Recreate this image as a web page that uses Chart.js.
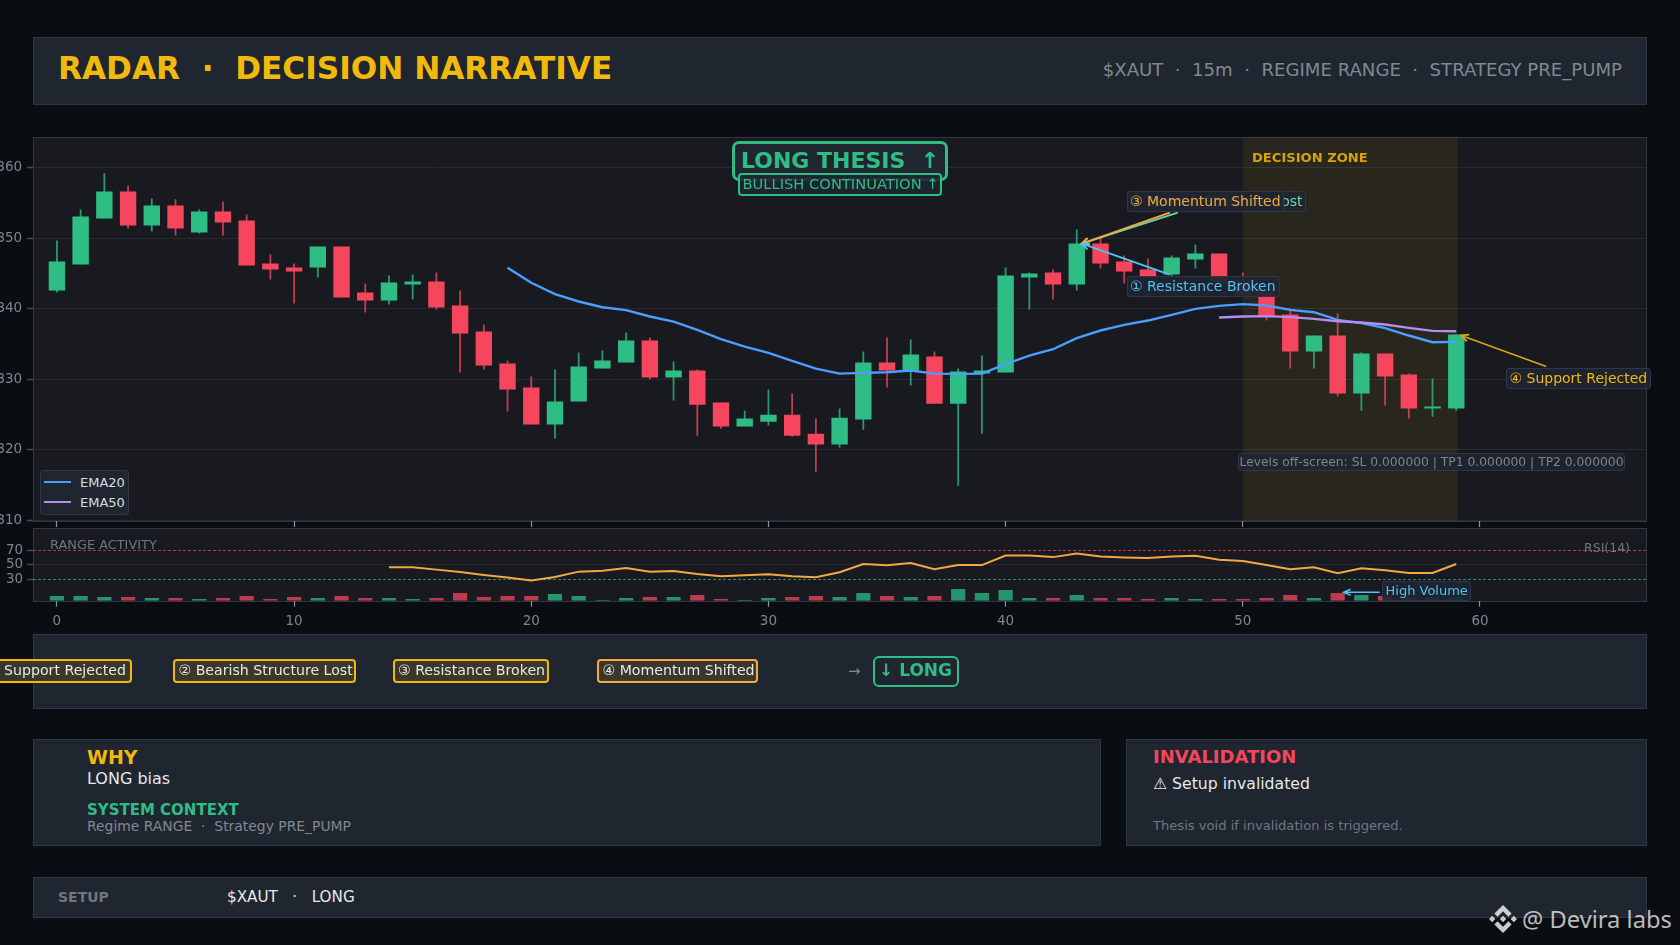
<!DOCTYPE html>
<html lang="en">
<head>
<meta charset="UTF-8">
<title>Radar Decision Narrative</title>
<script src="https://cdn.jsdelivr.net/npm/chart.js"></script>
<style>
  html, body { margin: 0; padding: 0; background: #0a0d11; }
  body { position: relative; width: 1680px; height: 945px; overflow: hidden; font-family: 'DejaVu Sans', sans-serif; }
  .panel { position: absolute; box-sizing: border-box; background: #1f2630; border: 1.5px solid #2f3645; }
  .t { position: absolute; white-space: pre; transform: translateY(-50%); line-height: 1; }
  .box { position: absolute; box-sizing: border-box; white-space: pre; display: flex; align-items: center; border-radius: 3px; }
  .note { background: rgba(31,38,48,.93); border: 1.5px solid #2f3645; padding-left: 2.5px; padding-bottom: 1.5px; font-size: 14px; }
  .badge { background: rgba(61,58,42,.93); border: 2px solid #f0b90b; border-radius: 4px; color: #e6e8ea; font-size: 14.15px; padding-left: 3.5px; padding-bottom: 1px; }
  canvas { position: absolute; left: 0; }
</style>
</head>
<body>
  <div class="panel" style="left:33px;top:37px;width:1613.5px;height:68px"></div>
  <div class="t" style="left:58px;top:69px;font-size:31.15px;font-weight:bold;color:#f0b90b">RADAR  ·  DECISION NARRATIVE</div>
  <div class="t" style="right:58px;top:70px;font-size:18.1px;color:#808892">$XAUT  ·  15m  ·  REGIME RANGE  ·  STRATEGY PRE_PUMP</div>

  <div class="panel" style="left:33px;top:136.5px;width:1613.5px;height:385px;background:#181a20"></div>
  <div class="panel" style="left:33px;top:527.5px;width:1613.5px;height:74px;background:#181a20"></div>

  <canvas id="priceChart" style="top:130px;width:1680px;height:398px"></canvas>
  <canvas id="rsiChart" style="top:520px;width:1680px;height:115px"></canvas>

  <!-- chart labels -->
  <div class="t" style="left:1252px;top:158px;font-size:13.1px;font-weight:bold;color:#d4a30e">DECISION ZONE</div>

  <div class="box" style="left:732px;top:141px;width:216px;height:40px;border:3px solid #2ebd85;border-radius:7px;background:#1f2630"></div>
  <div class="t" style="left:741px;top:161px;font-size:22px;font-weight:bold;color:#2ebd85">LONG THESIS  ↑</div>
  <div class="box" style="left:738px;top:173px;width:204px;height:22.5px;border:2px solid #2ebd85;border-radius:4px;background:rgba(31,38,48,.9);color:#2ebd85;font-size:14.7px;padding-left:2.5px;padding-bottom:2px">BULLISH CONTINUATION ↑</div>

  <div class="box note" style="left:1126.5px;top:191px;width:179px;height:21px;color:#6fd3a5">② Bearish Structure Lost</div>
  <div class="box note" style="left:1126.5px;top:191px;width:157.5px;height:21px;color:#f5a742">③ Momentum Shifted</div>
  <div class="box note" style="left:1126.5px;top:276px;width:153px;height:21px;color:#4fc3f7">① Resistance Broken</div>
  <div class="box note" style="left:1506px;top:368px;width:145px;height:20.5px;color:#f0b90b">④ Support Rejected</div>
  <div class="box note" style="left:1237.5px;top:453px;width:387.5px;height:18px;color:#7d8590;font-size:12.3px;padding-left:1px;padding-bottom:0">Levels off-screen: SL 0.000000 | TP1 0.000000 | TP2 0.000000</div>

  <div class="box" style="left:39.5px;top:469.5px;width:89.5px;height:45.5px;background:#1f2630;border:1.5px solid #2f3645"></div>
  <div style="position:absolute;left:44px;top:481px;width:27px;height:2px;background:#4a9eff"></div>
  <div class="t" style="left:80px;top:482px;font-size:13px;color:#d8dce2">EMA20</div>
  <div style="position:absolute;left:44px;top:501px;width:27px;height:2px;background:#b48cf2"></div>
  <div class="t" style="left:80px;top:502px;font-size:13px;color:#d8dce2">EMA50</div>

  <div class="t" style="left:50px;top:545px;font-size:12.9px;color:#6e7681">RANGE ACTIVITY</div>
  <div class="t" style="right:50px;top:548px;font-size:12.5px;color:#6e7681">RSI(14)</div>
  <div class="box note" style="left:1382px;top:581px;width:89px;height:19.5px;color:#4fc3f7;font-size:13px;padding-bottom:0">High Volume</div>

  <!-- narrative chain -->
  <div class="panel" style="left:33px;top:634px;width:1613.5px;height:74.5px"></div>
  <div class="t" style="left:26px;top:670px;font-size:15px;color:#808892">→</div>
  <div class="t" style="left:232px;top:670px;font-size:15px;color:#808892">→</div>
  <div class="t" style="left:438px;top:670px;font-size:15px;color:#808892">→</div>
  <div class="t" style="left:644px;top:670px;font-size:15px;color:#808892">→</div>
  <div class="t" style="left:848px;top:671px;font-size:15px;color:#808892">→</div>
  <div class="box badge" style="right:1548px;top:658.5px;height:24px;padding-right:4px">① Support Rejected</div>
  <div class="box badge" style="left:173px;top:658.5px;width:183px;height:24px">② Bearish Structure Lost</div>
  <div class="box badge" style="left:392.5px;top:658.5px;width:156.5px;height:24px">③ Resistance Broken</div>
  <div class="box badge" style="left:597px;top:658.5px;width:161px;height:24px;border-color:#f5a742">④ Momentum Shifted</div>
  <div class="box" style="left:873px;top:655.5px;width:86px;height:31px;border:2.5px solid #2ebd85;border-radius:6px;background:#1f2630;color:#2ebd85;font-size:17px;font-weight:bold;padding-left:4px;padding-bottom:2px">↓ LONG</div>

  <!-- why / invalidation -->
  <div class="panel" style="left:33px;top:739px;width:1068px;height:107px"></div>
  <div class="t" style="left:87px;top:757px;font-size:19px;font-weight:bold;color:#f0b90b">WHY</div>
  <div class="t" style="left:87px;top:779px;font-size:16px;color:#e6e8ea">LONG bias</div>
  <div class="t" style="left:87px;top:809.5px;font-size:15px;font-weight:bold;color:#2ebd85">SYSTEM CONTEXT</div>
  <div class="t" style="left:87px;top:827px;font-size:13.9px;color:#808892">Regime RANGE  ·  Strategy PRE_PUMP</div>

  <div class="panel" style="left:1126px;top:739px;width:520.5px;height:107px"></div>
  <div class="t" style="left:1153px;top:757px;font-size:18px;font-weight:bold;color:#f6465d">INVALIDATION</div>
  <div class="t" style="left:1153px;top:784px;font-size:15.7px;color:#e6e8ea">⚠ Setup invalidated</div>
  <div class="t" style="left:1153px;top:825.5px;font-size:13.1px;color:#6e7681">Thesis void if invalidation is triggered.</div>

  <div class="panel" style="left:33px;top:877px;width:1613.5px;height:41px"></div>
  <div class="t" style="left:58px;top:896.5px;font-size:14px;font-weight:bold;color:#6e7681">SETUP</div>
  <div class="t" style="left:227px;top:897.5px;font-size:15.2px;color:#e6e8ea">$XAUT   ·   LONG</div>

  <!-- watermark -->
  <svg style="position:absolute;left:1489px;top:905px;width:28px;height:28px" viewBox="0 0 126.61 126.61" fill="rgba(255,255,255,.78)">
    <path d="M38.73 53.2l24.59-24.58 24.6 24.6 14.3-14.31L63.32 0 24.42 38.9l14.31 14.3z"/>
    <path d="M0 63.31l14.3-14.31 14.31 14.31-14.31 14.3z"/>
    <path d="M38.73 73.41l24.59 24.59 24.6-24.6 14.31 14.29-38.9 38.91-38.91-38.88-.02-.02 14.33-14.29z"/>
    <path d="M98 63.31l14.3-14.31 14.31 14.3-14.31 14.32z"/>
    <path d="M77.83 63.3L63.32 48.78 52.59 59.51l-1.24 1.23-2.54 2.54 14.51 14.5 14.51-14.47z"/>
  </svg>
  <div class="t" style="left:1522px;top:920px;font-size:23.7px;font-family:'Noto Sans',sans-serif;color:rgba(255,255,255,.72)">@ Devira labs</div>

<script>
  // candles
  const opens = [4342.57,4346.26,4352.77,4356.6,4351.78,4354.62,4350.79,4353.77,4352.49,4346.4,4345.83,4345.83,4348.81,4342.29,4341.16,4343.42,4343.85,4340.45,4336.77,4332.23,4328.83,4323.59,4326.85,4331.52,4332.37,4335.49,4330.25,4331.24,4326.71,4323.31,4324.01,4325,4322.31,4320.76,4324.3,4332.37,4331.24,4333.22,4326.56,4330.81,4330.96,4344.42,4345.12,4343.42,4349.23,4346.68,4345.55,4344.84,4346.97,4347.82,4344,4342.3,4339.17,4333.93,4336.2,4327.98,4333.65,4330.67,4325.86,4325.86];
  const closes = [4346.68,4353.06,4356.6,4351.78,4354.62,4351.36,4353.77,4352.21,4346.12,4345.55,4345.27,4348.81,4341.58,4341.16,4343.71,4343.85,4340.17,4336.48,4331.95,4328.55,4323.59,4326.85,4331.81,4332.66,4335.49,4330.25,4331.24,4326.42,4323.31,4324.44,4325,4322.03,4320.76,4324.58,4332.37,4331.24,4333.51,4326.56,4331.1,4331.24,4344.7,4344.98,4343.42,4349.23,4346.4,4345.27,4344.56,4347.25,4347.82,4343.7,4341.9,4338.9,4333.93,4336.2,4327.98,4333.65,4330.39,4325.86,4326.14,4336.34];
  const highs = [4349.66,4354.05,4359.15,4357.45,4355.6,4355.47,4354.05,4355.18,4353.34,4347.67,4346.4,4348.81,4348.81,4343.57,4344.7,4344.84,4345.12,4342.57,4337.76,4332.66,4330.39,4331.38,4333.79,4334.07,4336.62,4335.92,4332.51,4331.38,4326.71,4325.57,4328.55,4327.98,4324.44,4325.86,4333.93,4335.92,4335.63,4333.93,4331.52,4333.36,4345.83,4345.12,4345.55,4351.22,4350.13,4347.53,4347.11,4347.53,4349.09,4347.82,4345.12,4342.57,4340.07,4336.2,4339.31,4333.79,4333.65,4330.81,4330.11,4336.34];
  const lows = [4342.29,4346.26,4352.77,4351.36,4350.93,4350.37,4350.65,4350.37,4346.12,4344.13,4340.73,4344.42,4341.58,4339.46,4340.59,4341.3,4339.88,4330.96,4331.38,4325.43,4323.59,4321.61,4326.85,4331.52,4332.37,4329.96,4326.99,4322.03,4323.02,4323.31,4323.45,4321.89,4316.93,4320.33,4322.88,4328.83,4329.11,4326.56,4314.95,4322.31,4330.96,4339.88,4341.3,4342.57,4345.69,4343.57,4344.4,4344.56,4345.69,4343.7,4341.9,4338.32,4331.52,4331.52,4327.56,4325.57,4326.28,4324.44,4324.72,4325.57];

  const ema20Start = 19;
  const ema20 = [4345.79,4343.66,4342.05,4341.02,4340.21,4339.79,4338.89,4338.18,4337,4335.68,4334.64,4333.74,4332.61,4331.52,4330.81,4330.91,4331,4331.24,4330.81,4330.77,4330.81,4332.14,4333.36,4334.26,4335.82,4336.91,4337.71,4338.32,4339.13,4339.98,4340.4,4340.64,4340.45,4339.83,4339.5,4338.42,4337.95,4337.24,4336.2,4335.25,4335.3];
  const ema50Start = 49;
  const ema50 = [4338.75,4338.89,4338.94,4338.8,4338.56,4338.23,4338.04,4337.76,4337.28,4336.86,4336.81];

  const rsiStart = 14;
  const rsi = [46.2,46.2,43,39.8,35.7,32,27.9,32.9,40.2,41.6,45.2,40.2,41.2,37,33.8,35.2,36.6,33.8,32.5,39.3,50.7,48.9,52.1,43.4,49.3,49.3,62.6,62.6,60.3,65.3,61.3,59.9,59,61.3,62.2,56.7,54.8,49.3,43.4,46.2,37.9,44.8,42,38.4,38.4,50.7];
  const volumes = [14,14,11,11,8,8,5,8,14,5,11,8,14,8,8,5,8,23,11,14,14,20,14,2,8,11,11,17,5,2,8,11,14,11,23,14,11,14,35,23,32,8,8,17,8,8,5,8,5,5,5,8,17,8,23,17,14,11,11,10];

  const priceTicks = [4310,4320,4330,4340,4350,4360];
  const rsiTicks = [30,50,70];
  const xTicks = [0,10,20,30,40,50,60];
  const zoneRange = [50,59.05];

  // target x, target y, pixel offset to the tail, colour
  const arrows = [
    { x: 43, y: 4349.2, dx: 96, dy: -31, color: '#6fd3a5' },
    { x: 43, y: 4349.2, dx: 88, dy: -31, color: '#f5a742' },
    { x: 43, y: 4349.2, dx: 88, dy: 31, color: '#4fc3f7' },
    { x: 59, y: 4336.2, dx: 85, dy: 31, color: '#d9a50f' }
  ];

  const GREEN = '#2ebd85', RED = '#f6465d';
  const up = i => closes[i] >= opens[i];
  const indexes = opens.map((_, i) => i);

  function pinTicks(values) {
    return scale => { scale.ticks = values.map(v => ({ value: v })); };
  }
  // keep the plot area where it belongs, tick labels must not shrink it
  function noPad(scale) {
    scale.paddingTop = scale.paddingBottom = scale.paddingLeft = scale.paddingRight = 0;
  }

  const zonePlugin = {
    id: 'zone',
    beforeDatasetsDraw(chart) {
      const { ctx, chartArea, scales } = chart;
      const a = scales.x.getPixelForValue(zoneRange[0]);
      const b = scales.x.getPixelForValue(zoneRange[1]);
      ctx.save();
      ctx.fillStyle = 'rgba(240,185,11,0.08)';
      ctx.fillRect(a, chartArea.top, b - a, chartArea.bottom - chartArea.top);
      ctx.restore();
    }
  };

  const arrowPlugin = {
    id: 'arrows',
    afterDatasetsDraw(chart) {
      const { ctx, scales } = chart;
      ctx.save();
      arrows.forEach(a => {
        const tx = scales.x.getPixelForValue(a.x) + 5;
        const ty = scales.y.getPixelForValue(a.y);
        const ang = Math.atan2(a.dy, a.dx);
        ctx.strokeStyle = a.color;
        ctx.lineWidth = 1.8;
        ctx.beginPath();
        ctx.moveTo(tx + a.dx, ty + a.dy);
        ctx.lineTo(tx, ty);
        ctx.moveTo(tx + 8 * Math.cos(ang - 0.45), ty + 8 * Math.sin(ang - 0.45));
        ctx.lineTo(tx, ty);
        ctx.lineTo(tx + 8 * Math.cos(ang + 0.45), ty + 8 * Math.sin(ang + 0.45));
        ctx.stroke();
      });
      ctx.restore();
    }
  };

  // arrow in the RSI panel, pointing at the tallest recent volume bar
  const volArrowPlugin = {
    id: 'volArrow',
    afterDatasetsDraw(chart) {
      const { ctx, scales } = chart;
      const tx = scales.x.getPixelForValue(54) + 6;
      const ty = scales.vol.getPixelForValue(volumes[54] * 1.1);
      ctx.save();
      ctx.strokeStyle = '#4fc3f7';
      ctx.lineWidth = 1.5;
      ctx.beginPath();
      ctx.moveTo(tx + 36, ty);
      ctx.lineTo(tx, ty);
      ctx.moveTo(tx + 7, ty - 3);
      ctx.lineTo(tx, ty);
      ctx.lineTo(tx + 7, ty + 3);
      ctx.stroke();
      ctx.restore();
    }
  };

  const tickFont = { family: 'DejaVu Sans', size: 13.5 };
  const tickColor = '#7d8590';

  new Chart(document.getElementById('priceChart'), {
    type: 'bar',
    plugins: [zonePlugin, arrowPlugin],
    data: {
      datasets: [
        {
          data: indexes.map(i => ({ x: i, y: [lows[i], highs[i]] })),
          backgroundColor: indexes.map(i => up(i) ? 'rgba(46,189,133,.78)' : 'rgba(246,70,93,.78)'),
          barThickness: 1.8, grouped: false, order: 3, inflateAmount: 0
        },
        {
          data: indexes.map(i => ({ x: i, y: [opens[i], closes[i]] })),
          backgroundColor: indexes.map(i => up(i) ? GREEN : RED),
          barThickness: 16.4, grouped: false, order: 2, inflateAmount: 0
        },
        {
          type: 'line', data: ema20.map((v, i) => ({ x: ema20Start + i, y: v })),
          borderColor: '#4a9eff', borderWidth: 2.4, pointRadius: 0, tension: 0, order: 1
        },
        {
          type: 'line', data: ema50.map((v, i) => ({ x: ema50Start + i, y: v })),
          borderColor: '#b48cf2', borderWidth: 2.4, pointRadius: 0, tension: 0, order: 0
        }
      ]
    },
    options: {
      responsive: false, animation: false, maintainAspectRatio: false,
      layout: { padding: { top: 6.7, right: 34, bottom: 0, left: 0 } },
      plugins: { legend: { display: false }, tooltip: { enabled: false } },
      scales: {
        x: {
          type: 'linear', min: -1, max: 67, offset: false,
          afterBuildTicks: pinTicks(xTicks),
          afterFit: s => { s.height = 7; noPad(s); },
          grid: { display: true, offset: false, drawOnChartArea: false, tickLength: 6, tickColor: '#8b929c', tickWidth: 1.2 },
          border: { display: false },
          ticks: { display: false }
        },
        y: {
          min: 4309.95, max: 4364.34,
          afterBuildTicks: pinTicks(priceTicks),
          afterFit: s => { s.width = 33.2; noPad(s); },
          grid: { color: '#262a33', lineWidth: 1, tickLength: 6, tickColor: '#4a505b', tickWidth: 1.5 },
          border: { display: false },
          ticks: { color: tickColor, font: tickFont, padding: 5, callback: v => String(v), autoSkip: false }
        }
      }
    }
  });

  new Chart(document.getElementById('rsiChart'), {
    type: 'bar',
    plugins: [volArrowPlugin],
    data: {
      datasets: [
        {
          data: indexes.map(i => ({ x: i, y: volumes[i] })),
          backgroundColor: indexes.map(i => up(i) ? 'rgba(46,189,133,.75)' : 'rgba(246,70,93,.75)'),
          barThickness: 14.2, yAxisID: 'vol', order: 2, inflateAmount: 0
        },
        {
          type: 'line', data: rsi.map((v, i) => ({ x: rsiStart + i, y: v })),
          yAxisID: 'y', borderColor: '#f5a742', borderWidth: 2, pointRadius: 0, tension: 0, order: 1
        }
      ]
    },
    options: {
      responsive: false, animation: false, maintainAspectRatio: false,
      layout: { padding: { top: 7.7, right: 34, bottom: 0, left: 0 } },
      plugins: { legend: { display: false }, tooltip: { enabled: false } },
      scales: {
        x: {
          type: 'linear', min: -1, max: 67, offset: false,
          afterBuildTicks: pinTicks(xTicks),
          afterFit: s => { s.height = 34.3; noPad(s); },
          grid: { display: true, offset: false, drawOnChartArea: false, tickLength: 6, tickColor: '#8b929c', tickWidth: 1.2 },
          border: { display: false },
          ticks: { color: tickColor, font: tickFont, padding: 7, maxRotation: 0, autoSkip: false, callback: v => String(v) }
        },
        y: {
          min: 0, max: 101,
          afterBuildTicks: pinTicks(rsiTicks),
          afterFit: s => { s.width = 33.2; noPad(s); },
          grid: {
            color: c => c.tick && c.tick.value === 70 ? 'rgba(246,70,93,.7)' : c.tick && c.tick.value === 30 ? 'rgba(46,189,133,.7)' : '#262a33',
            lineWidth: 1, tickLength: 6, tickColor: '#4a505b', tickWidth: 1.5
          },
          border: { display: false, dash: c => c.tick && c.tick.value === 50 ? [] : [3, 2] },
          ticks: { color: tickColor, font: tickFont, padding: 4, autoSkip: false, callback: v => String(v) }
        },
        vol: { display: false, min: 0, max: 219 }
      }
    }
  });
</script>
</body>
</html>
